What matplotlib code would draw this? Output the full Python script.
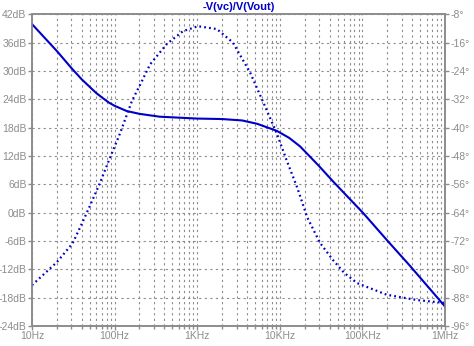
import numpy as np
import matplotlib.pyplot as plt
from matplotlib.ticker import FixedLocator, NullFormatter

plt.rcParams['font.family'] = ['Liberation Sans', 'DejaVu Sans']

# magnitud (linea continua) en dB
freq_mag = [10, 20, 30, 40, 50, 60, 70, 85, 100, 140, 200, 350, 1000, 2000, 3500,
            5300, 9200, 13000, 17600, 30000, 44000, 102000, 204000, 377000, 1000000]
mag_db = [39.9, 34.2, 30.6, 28.2, 26.6, 25.3, 24.4, 23.3, 22.6, 21.5, 20.9, 20.3,
          19.9, 19.8, 19.5, 18.8, 17.3, 15.8, 14.0, 9.8, 6.6, -0.1, -6.1, -11.3, -19.9]

# fase (linea punteada) en grados
freq_ph = [10, 20, 31, 40, 50, 66, 88, 116, 162, 215, 268, 429, 671, 1020, 1730,
           2700, 4370, 6200, 9200, 12100, 16200, 21500, 30700, 44000, 60000,
           86000, 197000, 458000, 1000000]
phase_deg = [-84.5, -78.0, -72.7, -67.2, -62.2, -55.8, -48.5, -41.7, -32.5, -26.8,
             -22.2, -16.4, -12.8, -11.4, -12.2, -16.0, -24.5, -32.5, -41.7, -49.3,
             -56.9, -65.4, -72.6, -77.4, -81.0, -83.9, -87.2, -88.7, -89.5]

db_ticks = list(range(-24, 43, 6))
deg_ticks = list(range(-96, -7, 8))
x_ticks = [10, 100, 1000, 10000, 100000, 1000000]
x_labels = ['10Hz', '100Hz', '1KHz', '10KHz', '100KHz', '1MHz']

gris = '#8c8c8c'
azul = '#0000c8'

fig = plt.figure(figsize=(4.74, 3.46), dpi=100)
ax = fig.add_axes([0.0675, 0.058, 0.8715, 0.901])
ax2 = ax.twinx()

ax.plot(freq_mag, mag_db, color=azul, lw=1.5, zorder=3)
ax2.plot(freq_ph, phase_deg, color=azul, lw=1.6, linestyle=(0, (0.8, 1.4)))

ax.set_xscale('log')
ax.set_xlim(10, 1e6)
ax.set_ylim(-24, 42)
ax2.set_ylim(-96, -8)

ax.set_xticks(x_ticks)
ax.set_xticklabels(x_labels)
minors = [m * 10 ** d for d in range(1, 6) for m in range(2, 10)]
ax.xaxis.set_minor_locator(FixedLocator(minors))
ax.xaxis.set_minor_formatter(NullFormatter())
ax.set_yticks(db_ticks)
ax.set_yticklabels([f'{v}dB' for v in db_ticks])
ax2.set_yticks(deg_ticks)
ax2.set_yticklabels([f'{v}°' for v in deg_ticks])

ax.grid(True, which='both', axis='x', color=gris, linestyle=(0, (2, 3)), lw=0.8)
ax.grid(True, which='major', axis='y', color=gris, linestyle=(0, (2, 3)), lw=0.8)

for a in (ax, ax2):
    for s in a.spines.values():
        s.set_color(gris)
        s.set_linewidth(1.2)
    a.tick_params(which='both', colors=gris, labelcolor=gris, labelsize=7.5,
                  length=3, width=1, pad=1)
ax.tick_params(axis='x', which='minor', length=2)

ax.set_title('-V(vc)/V(Vout)', color=azul, fontsize=8, fontweight='bold', pad=3)

fig.savefig('out.png', dpi=100)
